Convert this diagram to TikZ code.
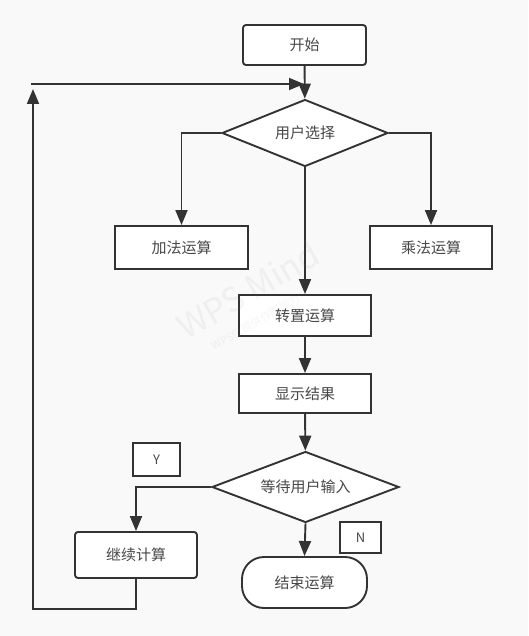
\documentclass[tikz,border=0pt]{standalone}
\usepackage{fontspec}
\setmainfont{Noto Sans CJK SC}
\usetikzlibrary{arrows.meta,shapes.geometric}
\definecolor{myline}{RGB}{51,51,51}
\definecolor{mytext}{RGB}{72,72,72}
\definecolor{mybg}{RGB}{249,249,249}

\begin{document}
\begin{tikzpicture}[x=1pt,y=-1pt,>={Triangle[length=15pt,width=12pt]},
  box/.style={draw=myline,line width=1.9pt,fill=white,text=mytext,font=\fontsize{15}{18}\selectfont,inner sep=0pt},
  decide/.style={box,diamond,aspect=2.5},
  link/.style={->,draw=myline,line width=1.9pt}]
  \fill[mybg] (0,0) rectangle (528,636);
  \useasboundingbox (0,0) rectangle (528,636);
		% main column
		\node[box,rounded corners=3pt,minimum width=123pt,minimum height=40pt] (start) at (304.5,45) {开始};
		\node[decide,minimum width=166pt,minimum height=67pt] (choose) at (305,133) {用户选择};
		\node[box,minimum width=133pt,minimum height=43pt] (add) at (181.5,247.5) {加法运算};
		\node[box,minimum width=122pt,minimum height=43pt] (mul) at (431,247.5) {乘法运算};
		\node[box,minimum width=132pt,minimum height=41pt] (trans) at (305,315.5) {转置运算};
		\node[box,minimum width=132pt,minimum height=39pt] (show) at (305,393.5) {显示结果};
		\node[decide,minimum width=187pt,minimum height=71pt] (wait) at (305.5,487) {等待用户输入};
		\node[box,font=\fontsize{13}{16}\selectfont,minimum width=47pt,minimum height=33pt] (yes) at (156.5,459.5) {Y};
		\node[box,font=\fontsize{13}{16}\selectfont,minimum width=41pt,minimum height=31pt] (no) at (360.5,537.5) {N};
		\node[box,rounded corners=3pt,minimum width=122pt,minimum height=46pt] (cont) at (136,555) {继续计算};
		\node[box,rounded corners=22pt,minimum width=125pt,minimum height=51pt] (stop) at (304.5,582.5) {结束运算};
		% connectors
		\draw[link] (start) -- (choose);
		\draw[link] (choose.west) -| (add.north);
		\draw[link] (choose.east) -| (mul.north);
		\draw[link] (choose.south) -- (trans.north);
		\draw[link] (trans) -- (show);
		\draw[link] (show) -- (wait);
		\draw[link] (wait.west) -| (cont.north);
		\draw[link] (wait.south) -- (stop.north);
		% loop back
		\coordinate (loopa) at (33,609);
		\coordinate (loopb) at (33,89);
		\coordinate (loopc) at (31,84);
		\coordinate (join) at (304,84);
		\draw[link] (cont.south) |- (loopa) -- (loopb);
		\draw[link] (loopc) -- (join);
		% watermark
		\node[gray,opacity=0.08,rotate=30,font=\fontsize{34}{36}\selectfont] (mark) at (248,290) {WPS Mind};
		\node[gray,opacity=0.08,rotate=30,font=\fontsize{11}{13}\selectfont] (submark) at (256,322) {WPS仅提供作图能力};
	\end{tikzpicture}
\end{document}
